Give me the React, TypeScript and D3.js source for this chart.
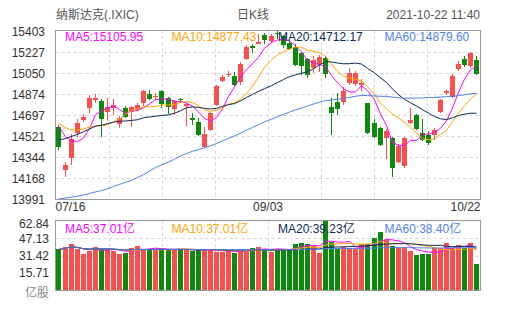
import React, { useEffect, useRef } from 'react'
import * as d3 from 'd3'

const dates = [
  '07/16', '07/19', '07/20', '07/21', '07/22', '07/23', '07/26', '07/27', '07/28', '07/29', '07/30',
  '08/02', '08/03', '08/04', '08/05', '08/06', '08/09', '08/10', '08/11', '08/12', '08/13', '08/16',
  '08/17', '08/18', '08/19', '08/20', '08/23', '08/24', '08/25', '08/26', '08/27', '08/30', '08/31',
  '09/01', '09/02', '09/03', '09/07', '09/08', '09/09', '09/10', '09/13', '09/14', '09/15', '09/16',
  '09/17', '09/20', '09/21', '09/22', '09/23', '09/24', '09/27', '09/28', '09/29', '09/30',
  '10/01', '10/04', '10/05', '10/06', '10/07', '10/08', '10/11', '10/12', '10/13', '10/14', '10/15',
  '10/18', '10/19', '10/20', '10/21', '10/22',
]

const opens = [
  14595, 14235, 14333, 14548, 14655, 14753, 14820, 14815, 14725, 14760,
  14625, 14760, 14725, 14750, 14800, 14870, 14850, 14895, 14840, 14750,
  14830, 14770, 14675, 14641, 14430, 14571, 14781, 14985, 15030, 15025,
  14975, 15171, 15275, 15295, 15370, 15316, 15385, 15358, 15300, 15270,
  15220, 15170, 15090, 15130, 15175, 14767, 14810, 14810, 14965, 14960,
  14950, 14795, 14630, 14585, 14505, 14502, 14305, 14270, 14632, 14697,
  14545, 14530, 14530, 14725, 14880, 14850, 15080, 15170, 15110, 15160,
]

const highs = [
  14610, 14305, 14540, 14661, 14703, 14865, 14874, 14830, 14838, 14830,
  14690, 14770, 14770, 14800, 14905, 14905, 14880, 14910, 14850, 14820,
  14840, 14800, 14711, 14670, 14595, 14725, 14950, 15030, 15070, 15060,
  15140, 15288, 15290, 15375, 15386, 15380, 15403.44, 15370, 15320, 15290,
  15230, 15180, 15190, 15200, 15190, 14840, 14882, 14935, 15090, 15065,
  15000, 14800, 14660, 14600, 14580, 14510, 14450, 14515, 14760, 14705,
  14660, 14560, 14590, 14830, 14910, 15045, 15150, 15190, 15225, 15190,
]

const lows = [
  14405, 14179, 14280, 14510, 14641, 14712, 14801, 14510, 14650, 14700,
  14590, 14670, 14600, 14730, 14775, 14826, 14820, 14760, 14705, 14700,
  14800, 14605, 14612, 14520, 14418, 14560, 14770, 14977, 15015, 14940,
  14950, 15160, 15220, 15290, 15296, 15300, 15340, 15260, 15240, 15110,
  15030, 15010, 15050, 15060, 15010, 14532, 14700, 14780, 14950, 14945,
  14895, 14535, 14500, 14440, 14330, 14179, 14290, 14255, 14625, 14575,
  14480, 14445, 14490, 14715, 14866, 14840, 15065, 15100, 15100, 15030,
]

const closes = [
  14427.24, 14274.98, 14498.88, 14631.95, 14684.6, 14836.99, 14840.71, 14660.58, 14762.58, 14778.26,
  14672.68, 14681.07, 14761.29, 14780.53, 14895.12, 14835.76, 14860.18, 14788.09, 14765.14, 14816.26,
  14822.9, 14793.76, 14656.18, 14525.91, 14541.79, 14714.66, 14942.65, 15019.8, 15041.86, 14945.81,
  15129.5, 15265.89, 15259.24, 15309.38, 15331.18, 15363.52, 15374.33, 15286.64, 15248.25, 15115.49,
  15105.58, 15037.76, 15161.53, 15181.92, 15043.97, 14713.9, 14746.4, 14896.85, 15052.24, 15047.7,
  14969.97, 14546.68, 14512.44, 14448.58, 14566.7, 14255.49, 14433.83, 14501.91, 14654.02, 14579.54,
  14486.2, 14465.93, 14571.64, 14823.43, 14897.34, 15021.81, 15129.09, 15121.68, 15215.7, 15041.47,
]

// closes of the 59 sessions before 07/16, only used so the MA lines start at the left edge
const earlierCloses = [
  13818.41, 14016.81, 14138.78, 14090.22, 14051.03, 14082.55, 13962.68,
  13895.12, 13633.5, 13582.42, 13632.84, 13752.24, 13401.86, 13389.43, 13031.68, 13124.99, 13429.98,
  13379.05, 13303.64, 13299.74, 13535.74, 13470.99, 13661.17, 13657.17, 13738.0, 13736.28, 13748.74,
  13736.48, 13756.33, 13614.51, 13814.49, 13881.72, 13924.98, 13911.75, 14020.33, 14069.42, 14174.14,
  14072.86, 14039.68, 14161.35, 14030.38, 14141.48, 14253.27, 14271.73, 14369.71, 14360.39, 14500.51,
  14528.33, 14503.95, 14522.38, 14639.33, 14663.64, 14665.06, 14559.79, 14701.92, 14733.24, 14677.65,
  14644.95, 14543.13,
]

// 亿股
const volumes = [
  36.9, 39.3, 41.7, 37.2, 32.6, 35.4, 39.3, 36.9, 37.5, 35.4,
  32.6, 33.8, 38.7, 39.9, 37.5, 36.9, 37.5, 36.9, 36.9, 36.9,
  37.5, 36.9, 35.4, 36.3, 36.9, 36.3, 35.0, 34.46, 36.0, 33.8,
  36.0, 35.5, 38.4, 39.3, 37.5, 34.4, 37.5, 37.5, 37.5, 41.7,
  42.9, 41.7, 40.5, 33.8, 62.84, 43.8, 37.5, 39.3, 38.7, 36.9,
  42.3, 42.3, 47.5, 53.0, 45.3, 39.9, 37.8, 39.3, 35.4, 31.7,
  33.15, 33.2, 37.8, 37.8, 43.1, 38.5, 41.0, 38.5, 43.0, 24.05,
]

const maPeriods = [5, 10, 20, 60]
const maColors = ['#ff00ff', '#ffa500', '#0c2b55', '#4f7ff0']
const xTickLabels = ['07/16', '09/03', '10/22']

const RED = '#fa4f4f'
const GREEN = '#0d8a0d'
const FONT = "'Liberation Sans', Arial, 'Noto Sans CJK SC', sans-serif"

const priceMA = (n) => {
  const all = earlierCloses.concat(closes)
  const off = earlierCloses.length
  return closes.map((_, i) => d3.mean(all.slice(off + i - n + 1, off + i + 1)))
}
const volumeMA = (n) => volumes.map((_, i) => d3.mean(volumes.slice(Math.max(0, i - n + 1), i + 1)))

export default function App() {
  const ref = useRef(null)

  useEffect(() => {
    const svg = d3.select(ref.current)
    svg.selectAll('*').remove()

    const left = 55.5, right = 480.5
    const top = 30.5, bottom = 199.5
    const vTop = 220.5, vBottom = 290.5

    const priceLines = maPeriods.map(priceMA)
    const volLines = maPeriods.map(volumeMA)

    const lo = d3.min([d3.min(lows), ...priceLines.map(l => d3.min(l))])
    const hi = d3.max(highs)
    const y = d3.scaleLinear().domain([lo, hi]).range([199, 31])
    const vMax = d3.max(volumes)
    const vy = d3.scaleLinear().domain([0, vMax]).range([290, 221])

    const x = d3.scaleBand().domain(d3.range(closes.length)).range([56, 480])
      .paddingInner(0.17).paddingOuter(0.08)
    const bx = (i) => Math.round(x(i))
    const cx = (i) => bx(i) + 2.5

    svg.append('rect').attr('width', 505).attr('height', 310).attr('fill', '#fff')

    // header
    const head = svg.append('g').style('font-family', FONT).style('font-size', '12px').attr('fill', '#555')
    head.append('text').attr('x', 56).attr('y', 19).text('纳斯达克(.IXIC)')
    head.append('text').attr('x', 253).attr('y', 19).attr('text-anchor', 'middle').text('日K线')
    head.append('text').attr('x', 480).attr('y', 19).attr('text-anchor', 'end').text('2021-10-22 11:40')

    // grids
    const grid = svg.append('g').attr('stroke', '#d4d4d4').attr('stroke-dasharray', '3,3')
    const step = (right - left) / 8
    for (let k = 1; k < 8; k++) {
      const gx = Math.round(left + k * step) + 0.5
      grid.append('line').attr('x1', gx).attr('x2', gx).attr('y1', top).attr('y2', bottom)
      grid.append('line').attr('x1', gx).attr('x2', gx).attr('y1', vTop).attr('y2', vBottom)
    }
    const priceTicks = d3.range(9).map(k => lo + (k * (hi - lo)) / 8)
    priceTicks.slice(1, 8).forEach(t => {
      const gy = Math.round(y(t)) + 0.5
      grid.append('line').attr('x1', left).attr('x2', right).attr('y1', gy).attr('y2', gy)
    })
    const volTicks = [0.25, 0.5, 0.75, 1].map(f => f * vMax)
    volTicks.slice(0, 3).forEach(t => {
      const gy = Math.round(vy(t)) + 0.5
      grid.append('line').attr('x1', left).attr('x2', right).attr('y1', gy).attr('y2', gy)
    })

    // axis labels
    const lab = svg.append('g').style('font-family', FONT).style('font-size', '12px').attr('fill', '#333')
    priceTicks.forEach(t => {
      lab.append('text').attr('x', 45).attr('y', y(t) + 4.5).attr('text-anchor', 'end').text(d3.format('.0f')(t))
    })
    volTicks.forEach(t => {
      lab.append('text').attr('x', 49).attr('y', Math.max(vy(t), 223) + 4.5).attr('text-anchor', 'end')
        .text(d3.format('.2f')(t))
    })
    lab.append('text').attr('x', 49).attr('y', 297).attr('text-anchor', 'end').attr('fill', '#888').text('亿股')
    const xAnchors = ['start', 'middle', 'end']
    const xPos = [left, (left + right) / 2, right]
    xTickLabels.forEach((s, k) => {
      lab.append('text').attr('x', xPos[k]).attr('y', 211).attr('text-anchor', xAnchors[k]).text(s)
    })

    // candles
    const up = (i) => closes[i] >= opens[i]
    const candles = svg.append('g').attr('shape-rendering', 'crispEdges')
    closes.forEach((c, i) => {
      const col = up(i) ? RED : GREEN
      candles.append('line').attr('x1', cx(i)).attr('x2', cx(i))
        .attr('y1', y(highs[i])).attr('y2', y(lows[i])).attr('stroke', col)
      const y0 = y(Math.max(opens[i], c)), y1 = y(Math.min(opens[i], c))
      candles.append('rect').attr('x', bx(i)).attr('width', 5)
        .attr('y', y0).attr('height', Math.max(1, y1 - y0)).attr('fill', col)
    })

    // volume bars
    const bars = svg.append('g').attr('shape-rendering', 'crispEdges')
    volumes.forEach((v, i) => {
      bars.append('rect').attr('x', bx(i)).attr('width', 5)
        .attr('y', vy(v)).attr('height', 290 - vy(v)).attr('fill', up(i) ? RED : GREEN)
    })

    // MA lines
    const priceLine = d3.line().x((_, i) => cx(i)).y(d => y(d))
    const volLine = d3.line().x((_, i) => cx(i)).y(d => vy(d))
    priceLines.forEach((l, k) => {
      svg.append('path').attr('d', priceLine(l)).attr('fill', 'none').attr('stroke', maColors[k]).attr('stroke-width', 1)
    })
    volLines.forEach((l, k) => {
      svg.append('path').attr('d', volLine(l)).attr('fill', 'none').attr('stroke', maColors[k]).attr('stroke-width', 1)
    })

    // frames
    svg.append('rect').attr('x', left).attr('y', top).attr('width', right - left).attr('height', bottom - top)
      .attr('fill', 'none').attr('stroke', '#999')
    svg.append('rect').attr('x', left).attr('y', vTop).attr('width', right - left).attr('height', vBottom - vTop)
      .attr('fill', 'none').attr('stroke', '#999')

    // legends
    const leg = svg.append('g').style('font-family', FONT).style('font-size', '12px')
    maPeriods.forEach((n, k) => {
      const lx = 65 + k * 106.5
      leg.append('text').attr('x', lx).attr('y', 41).attr('fill', maColors[k])
        .text(`MA${n}:${d3.format('.2f')(priceLines[k][closes.length - 1])}`)
      leg.append('text').attr('x', lx).attr('y', 232.5).attr('fill', maColors[k])
        .text(`MA${n}:${d3.format('.2f')(volLines[k][volumes.length - 1])}亿`)
    })
  }, [])

  return (
    <svg ref={ref} width={505} height={310} style={{ position: 'absolute', left: 0, top: 0 }} />
  )
}
